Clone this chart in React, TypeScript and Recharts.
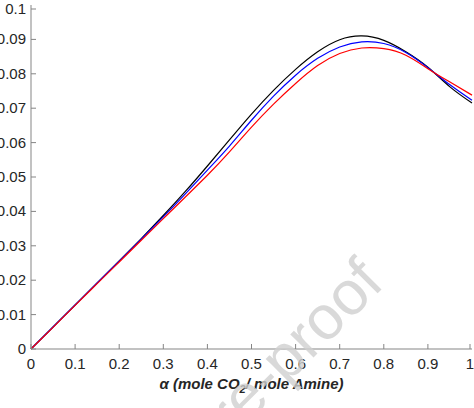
import React from "react";
import { Line, LineChart, XAxis, YAxis } from "recharts";

const alpha = [
  0, 0.05, 0.1, 0.15, 0.2, 0.25, 0.3, 0.35, 0.4, 0.45, 0.5, 0.55, 0.6, 0.65,
  0.7, 0.75, 0.8, 0.85, 0.9, 0.95, 1,
];

const blackSeries = [
  0, 0.0064, 0.0128, 0.0192, 0.0256, 0.0321, 0.0388, 0.0458, 0.0532, 0.0608,
  0.0683, 0.0752, 0.0813, 0.0864, 0.0899, 0.091, 0.0897, 0.0864, 0.0819,
  0.0762, 0.0715,
];

const blueSeries = [
  0, 0.0064, 0.0128, 0.0192, 0.0255, 0.0319, 0.0384, 0.0451, 0.052, 0.059,
  0.0665, 0.0735, 0.0796, 0.0845, 0.0878, 0.0893, 0.0888, 0.0862, 0.0818,
  0.0768, 0.0723,
];

const redSeries = [
  0, 0.0063, 0.0127, 0.019, 0.0253, 0.0316, 0.0379, 0.0442, 0.0505, 0.0573,
  0.0645, 0.0712, 0.0772, 0.0824, 0.0859, 0.0875, 0.0873, 0.0854, 0.0815,
  0.0776, 0.0738,
];

const xTicks = [0, 0.1, 0.2, 0.3, 0.4, 0.5, 0.6, 0.7, 0.8, 0.9, 1];
const yTicks = [0, 0.01, 0.02, 0.03, 0.04, 0.05, 0.06, 0.07, 0.08, 0.09, 0.1];

const data = alpha.map((a, i) => ({
  a,
  black: blackSeries[i],
  blue: blueSeries[i],
  red: redSeries[i],
}));

const AXIS = "#858585";
const TEXT = "#262626";
const FONT = "'Liberation Sans', Arial, Helvetica, sans-serif";

const fmt = (v: number) => String(Number(v.toFixed(3)));

const BottomTick = (props: any) => {
  const { x, y, payload } = props;
  return (
    <g>
      <line x1={x} x2={x} y1={y} y2={y - 5} stroke={AXIS} />
      <text x={x} y={y + 20} textAnchor="middle" fontSize={15} fill={TEXT} fontFamily={FONT}>
        {fmt(payload.value)}
      </text>
    </g>
  );
};

const LeftTick = (props: any) => {
  const { x, y, payload } = props;
  return (
    <g>
      <line x1={x + 5} x2={x + 10} y1={y} y2={y} stroke={AXIS} />
      <text x={x} y={y + 5} textAnchor="end" fontSize={15} fill={TEXT} fontFamily={FONT}>
        {fmt(payload.value)}
      </text>
    </g>
  );
};

const TopTick = (props: any) => {
  const { x, y } = props;
  return <line x1={x} x2={x} y1={y} y2={y + 5} stroke={AXIS} />;
};

const RightTick = (props: any) => {
  const { x, y } = props;
  return <line x1={x} x2={x - 5} y1={y} y2={y} stroke={AXIS} />;
};

const AxisTitle = (props: any) => {
  const vb = props.viewBox || { x: 0, y: 0, width: 0 };
  const cx = vb.x + vb.width / 2;
  return (
    <text
      x={cx}
      y={389}
      textAnchor="middle"
      fontSize={15}
      fontWeight="bold"
      fontStyle="italic"
      fill={TEXT}
      fontFamily={FONT}
    >
      <tspan>α (mole CO</tspan>
      <tspan fontSize={11} dy={4}>2</tspan>
      <tspan dy={-4}>/ mole Amine)</tspan>
    </text>
  );
};

export default function App() {
  return (
    <div style={{ position: "absolute", left: 0, top: 0, width: 474, height: 408, background: "#fff" }}>
      <LineChart
        width={474}
        height={408}
        data={data}
        margin={{ top: 5, right: 2, bottom: 0, left: 0 }}
      >
        <XAxis
          dataKey="a"
          type="number"
          domain={[0, 1]}
          ticks={xTicks}
          height={59}
          tickSize={0}
          tickMargin={0}
          tick={<BottomTick />}
          stroke={AXIS}
          label={<AxisTitle />}
        />
        <XAxis
          xAxisId="top"
          dataKey="a"
          type="number"
          orientation="top"
          domain={[0, 1]}
          ticks={xTicks}
          height={0}
          tickSize={0}
          tickMargin={0}
          tick={<TopTick />}
          stroke={AXIS}
        />
        <YAxis
          type="number"
          domain={[0, 0.1]}
          ticks={yTicks}
          width={31}
          tickSize={0}
          tickMargin={5}
          tick={<LeftTick />}
          stroke={AXIS}
        />
        <YAxis
          yAxisId="right"
          orientation="right"
          type="number"
          domain={[0, 0.1]}
          ticks={yTicks}
          width={0}
          tickSize={0}
          tickMargin={0}
          tick={<RightTick />}
          stroke={AXIS}
        />
        <Line dataKey="black" type="natural" stroke="#000000" strokeWidth={1.2} dot={false} isAnimationActive={false} />
        <Line dataKey="blue" type="natural" stroke="#0000ff" strokeWidth={1.2} dot={false} isAnimationActive={false} />
        <Line dataKey="red" type="natural" stroke="#ff0000" strokeWidth={1.2} dot={false} isAnimationActive={false} />
        <Line
          dataKey="red"
          xAxisId="top"
          yAxisId="right"
          type="natural"
          stroke="none"
          dot={false}
          legendType="none"
          isAnimationActive={false}
        />
      </LineChart>
      <svg
        width={474}
        height={408}
        style={{ position: "absolute", left: 0, top: 0, pointerEvents: "none" }}
      >
        <text
          x={386}
          y={285}
          textAnchor="end"
          fontSize={62}
          fill="#cfcfcf"
          fillOpacity={0.8}
          fontFamily={FONT}
          transform="rotate(-45 386 285)"
        >
          Journal Pre-proof
        </text>
      </svg>
    </div>
  );
}
